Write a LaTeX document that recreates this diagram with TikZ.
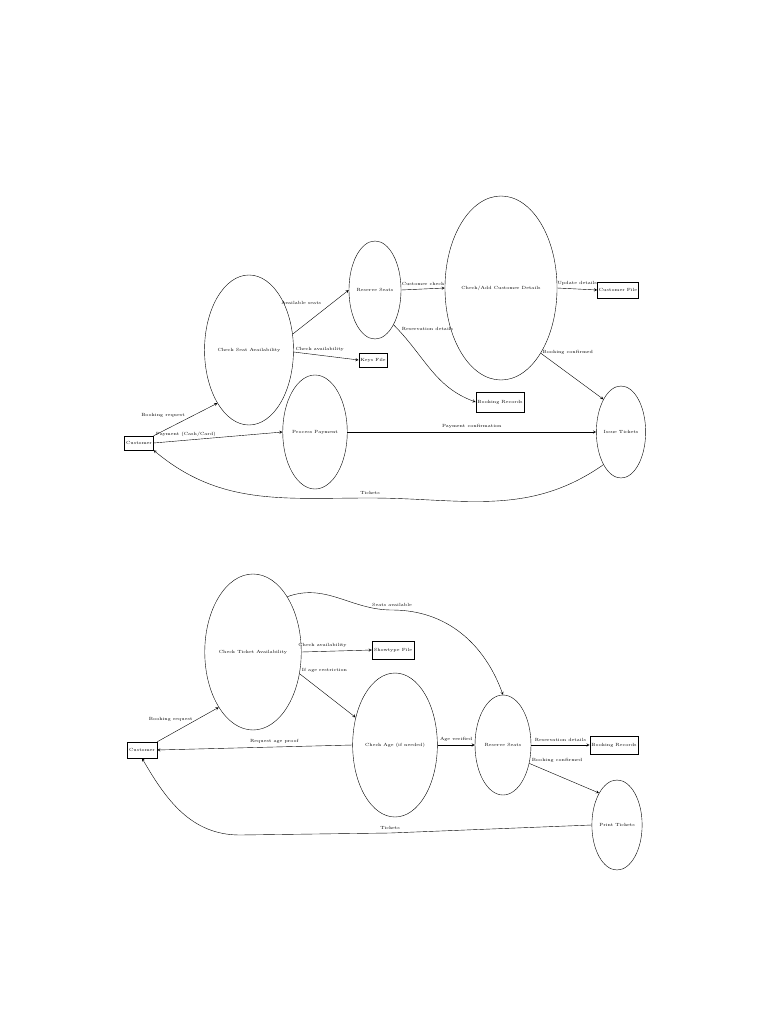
\documentclass[tikz,border=0pt]{standalone}
\usetikzlibrary{shapes.geometric}
\begin{document}
\begin{tikzpicture}[x=1pt,y=-1pt,
 proc/.style={draw,ellipse,inner sep=0pt,thin},
 store/.style={draw,rectangle,inner sep=1.5pt,thin,minimum height=14pt},
 lbl/.style={font=\fontsize{4.5}{5}\selectfont},
 arr/.style={->,>=stealth,thin},
 every node/.append style={font=\fontsize{4.5}{5}\selectfont}]
\useasboundingbox (0,0) rectangle (768,1024);
% top
\node[proc,minimum width=76pt,minimum height=150pt] (csa) at (249,350) {Check Seat Availability};
\node[proc,minimum width=50pt,minimum height=98pt] (rs1) at (375,290) {Reserve Seats};
\node[proc,minimum width=86pt,minimum height=184pt] (cad) at (501,288) {Check/Add Customer Details};
\node[proc,minimum width=54pt,minimum height=114pt] (pp) at (315,432) {Process Payment};
\node[proc,minimum width=44pt,minimum height=92pt] (it) at (621,432) {Issue Tickets};
\node[store,minimum width=26pt] (cu1) at (139,443) {Customer};
\node[store,minimum width=26pt] (kf) at (373,360) {Keys File};
\node[store,minimum width=42pt,minimum height=20pt] (br1) at (500,402) {Booking Records};
\node[store,minimum width=36pt,minimum height=16pt] (cf) at (618,290) {Customer File};
\draw[arr] (cu1.north east) -- node[lbl,above left,xshift=6pt,pos=0.45]{Booking request} (csa.south west);
\draw[arr] (csa.20) -- node[lbl,above left,xshift=4pt,yshift=4pt,pos=0.5]{Available seats} (rs1.west);
\draw[arr] (csa.east |- 0,352) -- node[lbl,above,pos=0.4]{Check availability} (kf.west);
\draw[arr] (cu1.east) -- node[lbl,above,pos=0.25]{Payment (Cash/Card)} (pp.west);
\draw[arr] (rs1.east) -- node[lbl,above]{Customer check} (cad.west);
\draw[arr] (rs1.south east) to[out=-45,in=160] node[lbl,above right,xshift=-4pt,pos=0.1]{Reservation details} (br1.west);
\draw[arr] (cad.east) -- node[lbl,above]{Update details} (cf.west);
\draw[arr] (cad.south east) -- node[lbl,above right,xshift=-8pt,pos=0.1]{Booking confirmed} (it.north west);
\draw[arr] (pp.east) -- node[lbl,above]{Payment confirmation} (it.west);
\draw[arr] (it.south west) to[out=-145,in=0] (370,498) node[lbl,above]{Tickets} to[out=180,in=-40] (cu1.south east);
% bottom
\node[proc,minimum width=86pt,minimum height=156pt] (cta) at (253,652) {Check Ticket Availability};
\node[proc,minimum width=76pt,minimum height=144pt] (ca) at (395,745) {Check Age (if needed)};
\node[proc,minimum width=56pt,minimum height=100pt] (rs2) at (503,745) {Reserve Seats};
\node[proc,minimum width=48pt,minimum height=90pt] (pt) at (617,825) {Print Tickets};
\node[store,minimum width=30pt,minimum height=16pt] (cu2) at (142,750) {Customer};
\node[store,minimum width=42pt,minimum height=18pt] (sf) at (393,650) {Showtype File};
\node[store,minimum width=46pt,minimum height=18pt] (br2) at (614,745) {Booking Records};
\draw[arr] (cu2.north east) -- node[lbl,above left,xshift=8pt,pos=0.5]{Booking request} (cta.south west);
\draw[arr] (cta.east) -- node[lbl,above,pos=0.3]{Check availability} (sf.west);
\draw[arr] (cta.north east) to[out=20,in=180] (392,610) node[lbl,above]{Seats available} to[out=0,in=110] (rs2.north);
\draw[arr] (cta.-25) -- node[lbl,above right,xshift=-4pt,pos=0.05]{If age restriction} (ca.145);
\draw[arr] (ca.west) -- node[lbl,above,pos=0.4]{Request age proof} (cu2.east);
\draw[arr] (ca.east) -- node[lbl,above]{Age verified} (rs2.west);
\draw[arr] (rs2.east) -- node[lbl,above]{Reservation details} (br2.west);
\draw[arr] (rs2.-35) -- node[lbl,above right,xshift=-8pt,pos=0.1]{Booking confirmed} (pt.north west);
\draw[arr] (pt.west) -- (390,833) node[lbl,above]{Tickets} -- (240,835) to[out=180,in=-60] (cu2.south);
\end{tikzpicture}
\end{document}
